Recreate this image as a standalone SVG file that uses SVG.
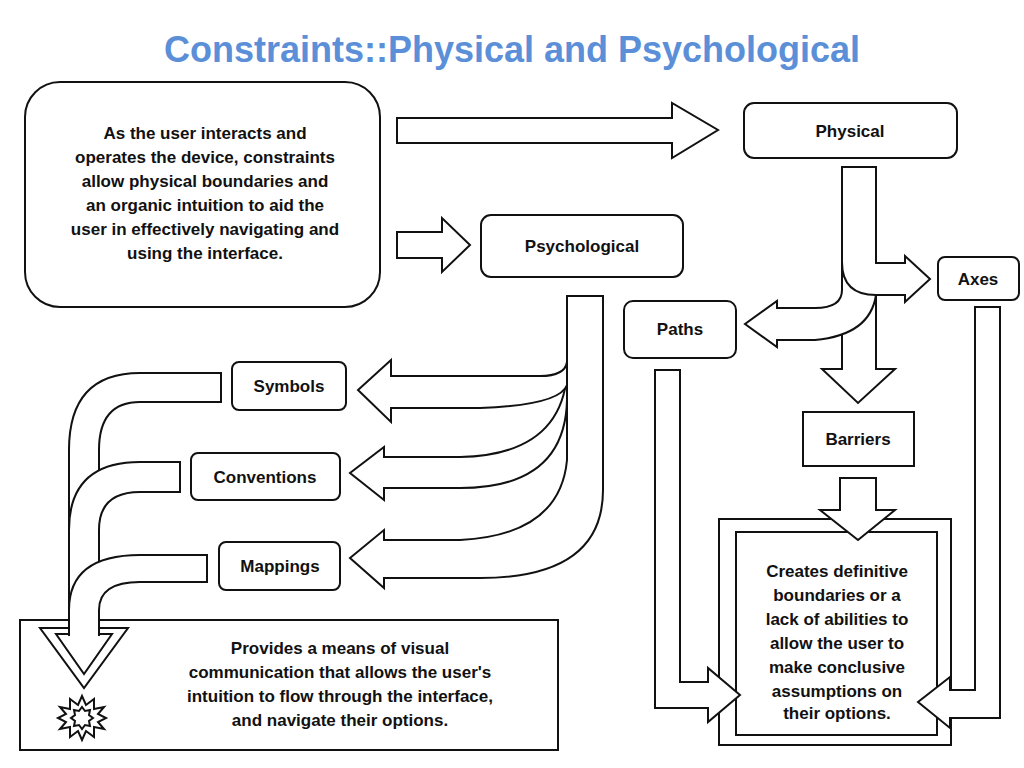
<svg xmlns="http://www.w3.org/2000/svg" width="1024" height="768" viewBox="0 0 1024 768">
<style>
.s{fill:#fff;stroke:#111;stroke-width:2;stroke-linejoin:miter}
.t{font-family:"Liberation Sans",Arial,sans-serif;font-weight:bold;font-size:17px;fill:#111;text-anchor:middle}
</style>
<rect width="1024" height="768" fill="#fff"/>
<text x="512" y="62" style="font-family:'Liberation Sans',Arial,sans-serif;font-weight:bold;font-size:36px;fill:#5b8fd8;text-anchor:middle">Constraints::Physical and Psychological</text>
<g id="result"><rect class="s" x="719" y="519" width="232" height="226" stroke-width="4"/><rect class="s" x="736" y="532" width="201" height="203"/>
<text class="t" x="837" y="577">Creates definitive</text>
<text class="t" x="837" y="601">boundaries or a</text>
<text class="t" x="837" y="625">lack of abilities to</text>
<text class="t" x="837" y="649">allow the user to</text>
<text class="t" x="837" y="673">make conclusive</text>
<text class="t" x="837" y="697">assumptions on</text>
<text class="t" x="837" y="719">their options.</text></g>
<g id="connectors">
<path class="s" d="M397,118 L672,118 L672,103 L718,130 L672,158 L672,143 L397,143 Z"/>
<path class="s" d="M397,232 L442,232 L442,218 L470,245 L442,272 L442,258 L397,258 Z"/>
<path class="s" d="M842,290 L876,290 L876,369 L895,369 L858,403 L822,369 L842,369 Z"/>
<path class="s" d="M842,262 L842,290 Q842,308 815,308 L777,308 L777,301 L745,324 L777,347 L777,340 L815,340 Q870,335 876,295 Z"/>
<path class="s" d="M842,167 L876,167 L876,263 L905,263 L905,256 L930,279 L905,302 L905,295 L876,295 Q842,295 842,262 Z"/>
<path class="s" d="M840,478 L876,478 L876,510 L895,510 L858,540 L820,510 L840,510 Z"/>
<path class="s" d="M655,370 L680,370 L680,682 L708,682 L708,668 L740,695 L708,722 L708,708 L655,708 Z"/>
<path class="s" d="M975,307 L1000,307 L1000,718 L950,718 L950,728 L918,702 L950,677 L950,690 L975,690 Z"/>
<path class="s" d="M567,296 L603,296 L603,490 Q603,578 480,578 L384,578 L384,588 L350,558 L384,530 L384,540 L460,540 Q560,535 567,460 Z"/>
<path class="s" d="M567,400 Q565,488 460,488 L384,488 L384,500 L350,473 L384,447 L384,457 L460,457 Q560,455 567,375 Z"/>
<path class="s" d="M567,362 Q565,376 540,376 L391,376 L391,360 L358,390 L391,422 L391,408 L480,408 Q560,405 567,385 Z"/>
</g>
<g id="bottomBox"><rect class="s" x="20" y="620" width="538" height="130"/>
<text class="t" x="340" y="654">Provides a means of visual</text>
<text class="t" x="340" y="678">communication that allows the user's</text>
<text class="t" x="340" y="702">intuition to flow through the interface,</text>
<text class="t" x="340" y="726">and navigate their options.</text>
<polygon class="s" stroke-width="1.5" points="82,696 86,705 94,699 94,709 104,707 98,714 106,718 98,722 104,729 94,727 94,737 86,731 82,740 78,731 70,737 70,727 60,729 66,722 58,718 66,714 60,707 70,709 70,699 78,705"/>
<polygon class="s" stroke-width="1.5" points="82,707 85,711 90,710 89,715 93,718 89,721 90,726 85,725 82,729 79,725 74,726 75,721 71,718 75,715 74,710 79,711"/>
</g>
<g id="leftCurves">
<path class="s" d="M221,373 L140,373 Q69,373 69,450 L69,640 L99,640 L99,450 Q99,402 140,402 L221,402 Z"/>
<path class="s" d="M180,462 L140,462 Q69,462 69,530 L69,640 L99,640 L99,530 Q99,492 140,492 L180,492 Z"/>
<path class="s" d="M207,555 L140,555 Q69,555 69,610 L69,640 L99,640 L99,610 Q99,582 140,582 L207,582 Z"/>
<polygon class="s" points="40,628 128,628 84,688"/>
<polygon class="s" points="56,634 112,634 84,674"/>
<rect x="70" y="626" width="28" height="10" fill="#fff"/>
<path d="M69,624 L69,636 M99,624 L99,636" stroke="#111" stroke-width="2"/>
</g>
<g id="intro"><rect class="s" x="25" y="82" width="355" height="225" rx="35"/>
<text class="t" x="205" y="139">As the user interacts and</text>
<text class="t" x="205" y="163">operates the device, constraints</text>
<text class="t" x="205" y="187">allow physical boundaries and</text>
<text class="t" x="205" y="211">an organic intuition to aid the</text>
<text class="t" x="205" y="235">user in effectively navigating and</text>
<text class="t" x="205" y="259">using the interface.</text></g>
<g id="physical"><rect class="s" x="744" y="103" width="213" height="55" rx="10"/><text class="t" x="850" y="137">Physical</text></g>
<g id="psychological"><rect class="s" x="481" y="215" width="202" height="62" rx="10"/><text class="t" x="582" y="252">Psychological</text></g>
<g id="axes"><rect class="s" x="938" y="257" width="81" height="43" rx="7"/><text class="t" x="978" y="285">Axes</text></g>
<g id="paths"><rect class="s" x="624" y="301" width="112" height="57" rx="9"/><text class="t" x="680" y="335">Paths</text></g>
<g id="barriers"><rect class="s" x="803" y="412" width="111" height="54"/><text class="t" x="858" y="445">Barriers</text></g>
<g id="symbols"><rect class="s" x="232" y="362" width="114" height="48" rx="7"/><text class="t" x="289" y="392">Symbols</text></g>
<g id="conventions"><rect class="s" x="191" y="453" width="149" height="47" rx="7"/><text class="t" x="265" y="483">Conventions</text></g>
<g id="mappings"><rect class="s" x="219" y="542" width="121" height="48" rx="7"/><text class="t" x="280" y="572">Mappings</text></g>
</svg>
